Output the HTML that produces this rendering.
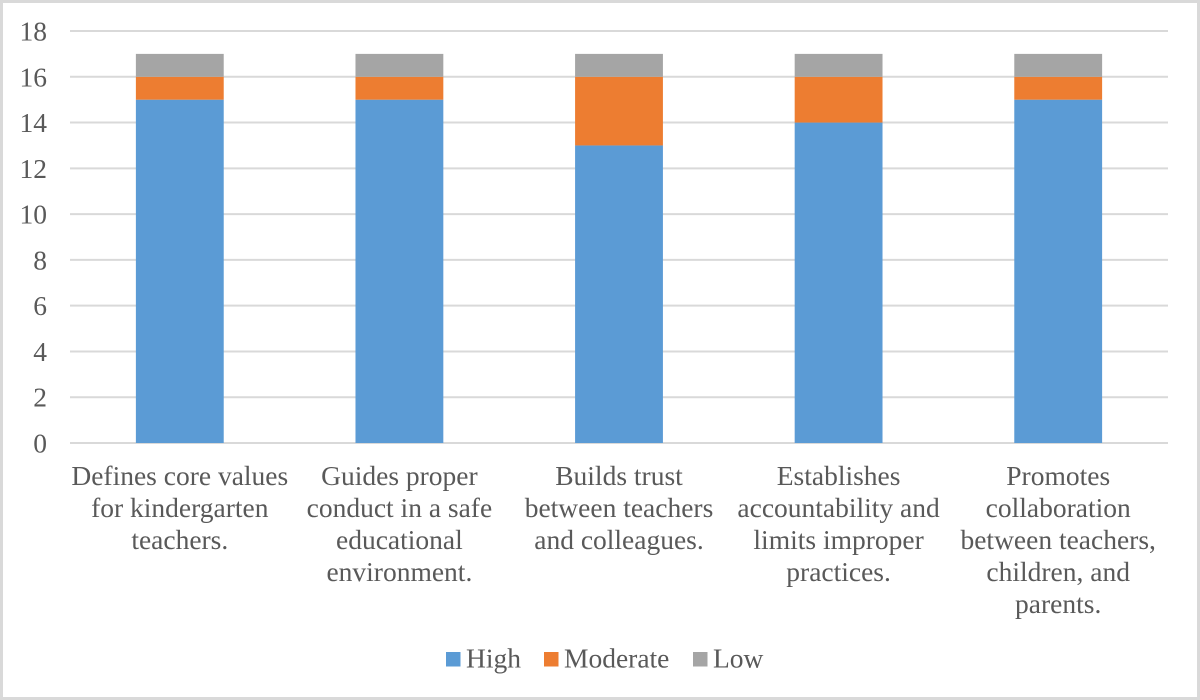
<!DOCTYPE html>
<html lang="en">
<head>
<meta charset="utf-8">
<title>Stacked bar chart</title>
<style>
html,body{margin:0;padding:0;background:#fff;}
svg{display:block;}
text{font-family:"Liberation Serif",serif;fill:#595959;}
</style>
</head>
<body>
<svg id="chart" width="1200" height="700" viewBox="0 0 1200 700" xmlns="http://www.w3.org/2000/svg"></svg>
<script>
const categories = [
  ["Defines core values","for kindergarten","teachers."],
  ["Guides proper","conduct in a safe","educational","environment."],
  ["Builds trust","between teachers","and colleagues."],
  ["Establishes","accountability and","limits improper","practices."],
  ["Promotes","collaboration","between teachers,","children, and","parents."]
];
const highValues = [15, 15, 13, 14, 15];
const moderateValues = [1, 1, 3, 2, 1];
const lowValues = [1, 1, 1, 1, 1];
const yTicks = [0, 2, 4, 6, 8, 10, 12, 14, 16, 18];
const seriesNames = ["High", "Moderate", "Low"];

const svg = document.getElementById('chart');
const NS = 'http://www.w3.org/2000/svg';
const plotLeft = 70, plotRight = 1168, plotTop = 31, plotBottom = 443;
const yMax = 18;
const fontSize = 27.5;
const colors = ['#5b9bd5', '#ed7d31', '#a5a5a5'];
const seriesValues = [highValues, moderateValues, lowValues];
const seriesKeys = ['high', 'moderate', 'low'];
const bandWidth = (plotRight - plotLeft) / categories.length;
const barWidth = bandWidth * 0.4;
function yScale(v) { return plotBottom - (v / yMax) * (plotBottom - plotTop); }
function bandCenter(i) { return plotLeft + bandWidth * (i + 0.5); }
function make(tag, attrs, parent) {
  const el = document.createElementNS(NS, tag);
  for (const k in attrs) el.setAttribute(k, attrs[k]);
  (parent || svg).appendChild(el);
  return el;
}

const frame = make('rect', {x: 1.5, y: 1.5, width: 1197, height: 697, fill: '#fff', stroke: '#d9d9d9', 'stroke-width': 3});



yTicks.forEach(function (t) {
  const y = yScale(t);
  const line = make('line', {x1: plotLeft, x2: plotRight, y1: y, y2: y, stroke: '#d9d9d9', 'stroke-width': 2});
  
  
  const label = make('text', {x: 47, y: y + 9.5, 'text-anchor': 'end', 'font-size': fontSize});
  label.textContent = String(t);
  
  
});

categories.forEach(function (lines, i) {
  let base = 0;
  const cx = bandCenter(i);
  seriesValues.forEach(function (vals, s) {
    const top = base + vals[i];
    const bar = make('rect', {x: cx - barWidth / 2, y: yScale(top), width: barWidth, height: yScale(base) - yScale(top), fill: colors[s]});
    
    
    base = top;
  });
  const label = make('text', {'text-anchor': 'middle', 'font-size': fontSize});
  
  
  lines.forEach(function (ln, j) {
    const ts = make('tspan', {x: cx, y: 485 + j * 32}, label);
    ts.textContent = ln;
  });
});

const legendSwatchX = [446, 544, 693];
const legendTextX = [466, 564, 713];
seriesNames.forEach(function (name, s) {
  const sw = make('rect', {x: legendSwatchX[s], y: 652, width: 14.5, height: 14.5, fill: colors[s]});
  
  
  const tx = make('text', {x: legendTextX[s], y: 667.5, 'font-size': fontSize});
  tx.textContent = name;
  
  
});
</script>
</body>
</html>
